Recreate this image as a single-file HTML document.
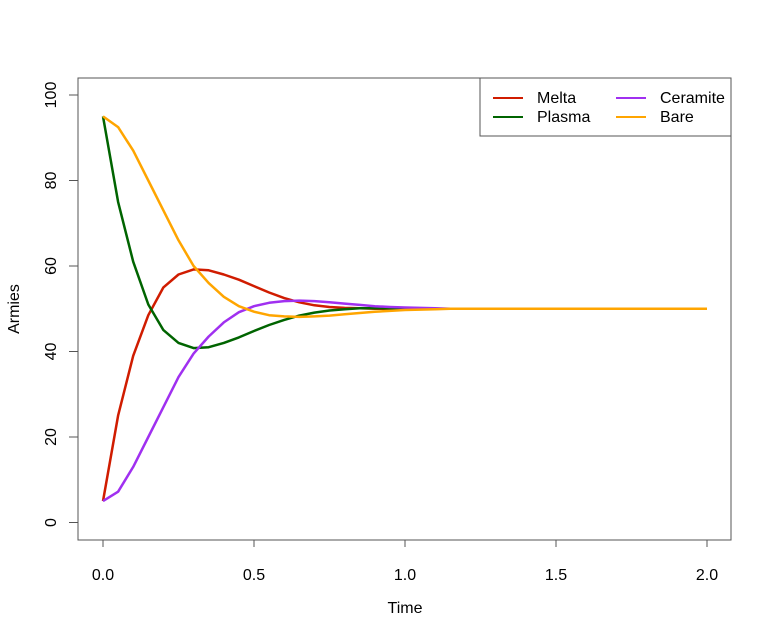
<!DOCTYPE html>
<html><head><meta charset="utf-8"><style>body{margin:0;background:#fff}svg{display:block}text{font-family:"Liberation Sans",sans-serif;font-size:16px;fill:#000}</style></head>
<body>
<svg width="772" height="638" xmlns="http://www.w3.org/2000/svg">
<rect x="78" y="78" width="653" height="462" fill="none" stroke="#555" stroke-width="1"/>
<g stroke="#555">
<line x1="78" y1="522.5" x2="78" y2="95"/>
<line x1="69" y1="522.5" x2="78" y2="522.5"/><line x1="69" y1="437" x2="78" y2="437"/><line x1="69" y1="351.5" x2="78" y2="351.5"/><line x1="69" y1="266" x2="78" y2="266"/><line x1="69" y1="180.5" x2="78" y2="180.5"/><line x1="69" y1="95" x2="78" y2="95"/>
<line x1="103" y1="540" x2="707" y2="540"/>
<line x1="103" y1="540" x2="103" y2="547"/><line x1="254" y1="540" x2="254" y2="547"/><line x1="405" y1="540" x2="405" y2="547"/><line x1="556" y1="540" x2="556" y2="547"/><line x1="707" y1="540" x2="707" y2="547"/>
</g>
<g text-anchor="middle">
<text transform="translate(56,522.5) rotate(-90)">0</text>
<text transform="translate(56,437) rotate(-90)">20</text>
<text transform="translate(56,351.5) rotate(-90)">40</text>
<text transform="translate(56,266) rotate(-90)">60</text>
<text transform="translate(56,180.5) rotate(-90)">80</text>
<text transform="translate(56,95) rotate(-90)">100</text>
<text x="103" y="580">0.0</text><text x="254" y="580">0.5</text><text x="405" y="580">1.0</text><text x="556" y="580">1.5</text><text x="707" y="580">2.0</text>
<text x="405" y="613">Time</text>
<text transform="translate(19,309) rotate(-90)">Armies</text>
</g>
<g id="lines" fill="none" stroke-width="2.5" stroke-linejoin="round"></g>
<rect x="480" y="78" width="251" height="58" fill="#fff" stroke="#555"/>
<line x1="493" y1="98" x2="523" y2="98" stroke="#d01c00" stroke-width="2"/>
<line x1="493" y1="117" x2="523" y2="117" stroke="#006400" stroke-width="2"/>
<line x1="616" y1="98" x2="646" y2="98" stroke="#a030f0" stroke-width="2"/>
<line x1="616" y1="117" x2="646" y2="117" stroke="#ffa500" stroke-width="2"/>
<text x="537" y="103">Melta</text><text x="537" y="122">Plasma</text>
<text x="660" y="103">Ceramite</text><text x="660" y="122">Bare</text>
</svg>
<script>
var S={
"#d01c00":[5,25,39,48.5,55,58,59.2,59,58,56.8,55.3,53.8,52.5,51.5,50.8,50.4,50.2,50.1,50],
"#006400":[95,75,61,51,45,42,40.8,41,42,43.3,44.8,46.2,47.4,48.4,49.1,49.6,49.9,50.1,50.1,50.1,50],
"#a030f0":[5,7.2,13,20,27,34,39.5,43.5,46.8,49.2,50.6,51.4,51.8,51.9,51.8,51.5,51.2,50.9,50.6,50.4,50.3,50.2,50.1,50],
"#ffa500":[95,92.5,87,80,73,66,60,56,52.8,50.6,49.3,48.5,48.2,48.1,48.2,48.4,48.7,49,49.3,49.5,49.7,49.8,49.9,50]};
var g=document.getElementById('lines'),h='';
for(var c in S){var a=S[c],p=[];for(var i=0;i<=40;i++){var v=i<a.length?a[i]:50;p.push((103+i*15.1).toFixed(1)+','+(522.5-v*4.275).toFixed(1));}
h+='<polyline stroke="'+c+'" points="'+p.join(' ')+'"/>';}
g.innerHTML=h;
</script>
</body></html>
